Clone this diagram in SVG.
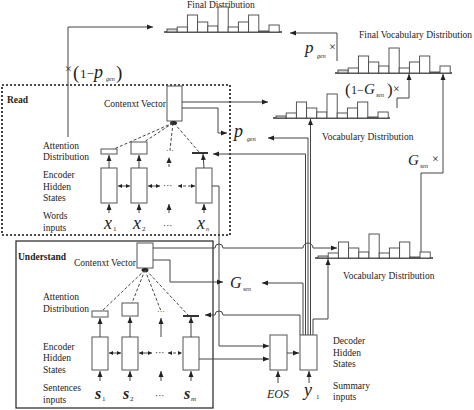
<svg xmlns="http://www.w3.org/2000/svg" width="474" height="410" viewBox="0 0 474 410">
<style>
svg{font-size:9.5px}
text{font-family:"Liberation Serif","Times New Roman",serif;fill:#222}
.b{font-weight:bold}
.m{font-style:italic}
.ln{fill:none;stroke:#444;stroke-width:1}
.ar{marker-end:url(#ah)}
.bi{marker-start:url(#as);marker-end:url(#as)}
.ds{stroke-dasharray:3,2}
.bx{fill:#fff;stroke:#555;stroke-width:1}
.bar{fill:#fff;stroke:#444;stroke-width:0.9}
.gb{fill:#d8d8d8;stroke:#444;stroke-width:0.9}
.base{stroke:#333;stroke-width:1.3}
</style>
<defs>
<marker id="ah" markerUnits="userSpaceOnUse" markerWidth="7" markerHeight="6" refX="6" refY="3" orient="auto-start-reverse">
<path d="M0,0.5 L6,3 L0,5.5 z" fill="#222"/>
</marker>
<marker id="as" markerUnits="userSpaceOnUse" markerWidth="5" markerHeight="5" refX="4" refY="2" orient="auto-start-reverse">
<path d="M0,0 L4,2 L0,4 z" fill="#222"/>
</marker>
</defs>

<g id="final-distribution">
<text x="187" y="8">Final Distribution</text>
<line class="base" x1="164" y1="32" x2="282" y2="32"/>
<rect class="gb" x="167" y="29" width="10.2" height="3"/>
<rect class="bar" x="177.2" y="27" width="10.2" height="5"/>
<rect class="bar" x="187.4" y="15" width="10.2" height="17"/>
<rect class="bar" x="197.6" y="22" width="10.2" height="10"/>
<rect class="bar" x="207.8" y="26" width="10.2" height="6"/>
<rect class="bar" x="218" y="7" width="10.2" height="25"/>
<rect class="bar" x="228.2" y="27" width="10.2" height="5"/>
<rect class="bar" x="238.4" y="22" width="10.2" height="10"/>
<rect class="bar" x="248.6" y="15" width="10.2" height="17"/>
<rect class="gb" x="258.8" y="31" width="10.2" height="1"/>
<rect class="bar" x="269" y="25" width="10.2" height="7"/>
</g>

<g id="vocab-distribution-upper">
<line class="base" x1="273" y1="118" x2="390" y2="118"/>
<rect class="gb" x="276" y="116" width="10.2" height="2"/>
<rect class="bar" x="286.2" y="113" width="10.2" height="5"/>
<rect class="bar" x="296.4" y="102" width="10.2" height="16"/>
<rect class="bar" x="306.6" y="108" width="10.2" height="10"/>
<rect class="bar" x="316.8" y="112" width="10.2" height="6"/>
<rect class="bar" x="327" y="94" width="10.2" height="24"/>
<rect class="bar" x="337.2" y="113" width="10.2" height="5"/>
<rect class="bar" x="347.4" y="108" width="10.2" height="10"/>
<rect class="bar" x="357.6" y="102" width="10.2" height="16"/>
<rect class="gb" x="367.8" y="117" width="10.2" height="1"/>
<rect class="bar" x="378" y="112" width="10.2" height="6"/>
<text x="322" y="140">Vocabulary Distribution</text>
</g>

<g id="final-vocab-distribution">
<text x="359" y="38">Final Vocabulary Distribution</text>
<line class="base" x1="335" y1="73" x2="452" y2="73"/>
<rect class="gb" x="338" y="70" width="10.2" height="3"/>
<rect class="bar" x="348.2" y="68" width="10.2" height="5"/>
<rect class="bar" x="358.4" y="56" width="10.2" height="17"/>
<rect class="bar" x="368.6" y="62" width="10.2" height="11"/>
<rect class="bar" x="378.8" y="66" width="10.2" height="7"/>
<rect class="bar" x="389" y="48" width="10.2" height="25"/>
<rect class="bar" x="399.2" y="68" width="10.2" height="5"/>
<rect class="bar" x="409.4" y="62" width="10.2" height="11"/>
<rect class="bar" x="419.6" y="56" width="10.2" height="17"/>
<rect class="gb" x="429.8" y="72" width="10.2" height="1"/>
<rect class="bar" x="440" y="66" width="10.2" height="7"/>
</g>

<g id="vocab-distribution-lower">
<line class="base" x1="315" y1="258" x2="433" y2="258"/>
<rect class="gb" x="318" y="256" width="10.2" height="2"/>
<rect class="bar" x="328.2" y="253" width="10.2" height="5"/>
<rect class="bar" x="338.4" y="242" width="10.2" height="16"/>
<rect class="bar" x="348.6" y="248" width="10.2" height="10"/>
<rect class="bar" x="358.8" y="252" width="10.2" height="6"/>
<rect class="bar" x="369" y="234" width="10.2" height="24"/>
<rect class="bar" x="379.2" y="253" width="10.2" height="5"/>
<rect class="bar" x="389.4" y="248" width="10.2" height="10"/>
<rect class="bar" x="399.6" y="242" width="10.2" height="16"/>
<rect class="gb" x="409.8" y="257" width="10.2" height="1"/>
<rect class="bar" x="420" y="252" width="10.2" height="6"/>
<text x="343" y="279">Vocabulary Distribution</text>
</g>

<g id="read">
<rect x="2" y="85" width="228" height="150" fill="none" stroke="#111" stroke-width="1.6" stroke-dasharray="2,2"/>
<text class="b" x="7" y="103">Read</text>
<text x="104" y="107">Contenxt Vector</text>
<rect class="bx" x="167" y="86" width="15" height="35"/>
<ellipse cx="173.5" cy="123" rx="3.5" ry="2" fill="#222"/>
<text x="43" y="149">Attention</text>
<text x="43" y="160">Distribution</text>
<text x="43" y="178">Encoder</text>
<text x="43" y="190">Hidden</text>
<text x="43" y="201">States</text>
<text x="43" y="219">Words</text>
<text x="43" y="231">inputs</text>
<rect class="bx" x="101" y="149" width="16" height="5"/>
<rect class="bx" x="131" y="142" width="16" height="12"/>
<text x="166" y="153" font-size="8">···</text>
<line x1="192" y1="153" x2="208" y2="153" stroke="#333" stroke-width="2"/>
<rect class="bx" x="101" y="168" width="16" height="35"/>
<rect class="bx" x="131" y="168" width="16" height="35"/>
<rect class="bx" x="196" y="168" width="16" height="35"/>
<text x="163" y="189">···</text>
<text class="m" x="104" y="229" font-size="18">x</text><text x="113" y="231" font-size="7">1</text>
<text class="m" x="133" y="229" font-size="18">x</text><text x="142" y="231" font-size="7">2</text>
<text x="163" y="229">···</text>
<text class="m" x="197" y="229" font-size="18">x</text><text class="m" x="206" y="231" font-size="6">n</text>
</g>

<g id="understand">
<rect x="16" y="241" width="197" height="167" fill="none" stroke="#222" stroke-width="1.2"/>
<text class="b" x="18" y="260">Understand</text>
<text x="74" y="266">Contenxt Vector</text>
<rect class="bx" x="137" y="243" width="16" height="25"/>
<ellipse cx="145" cy="270" rx="3.5" ry="2" fill="#222"/>
<text x="43" y="300">Attention</text>
<text x="43" y="312">Distribution</text>
<text x="43" y="350">Encoder</text>
<text x="43" y="361">Hidden</text>
<text x="43" y="373">States</text>
<text x="43" y="391">Sentences</text>
<text x="43" y="403">inputs</text>
<rect class="bx" x="92" y="311" width="16" height="6"/>
<rect class="bx" x="122" y="303" width="16" height="13"/>
<text x="157" y="314" font-size="8">···</text>
<line x1="183" y1="316" x2="199" y2="316" stroke="#333" stroke-width="2"/>
<rect class="bx" x="92" y="337" width="16" height="33"/>
<rect class="bx" x="122" y="337" width="16" height="33"/>
<rect class="bx" x="183" y="337" width="16" height="33"/>
<text x="155" y="356">···</text>
<text class="m b" x="95" y="399" font-size="16">s</text><text x="102" y="401" font-size="7">1</text>
<text class="m b" x="123" y="399" font-size="16">s</text><text x="130" y="401" font-size="7">2</text>
<text x="155" y="399">···</text>
<text class="m b" x="184" y="399" font-size="16">s</text><text class="m" x="191" y="401" font-size="7">m</text>
</g>

<g id="decoder">
<rect class="bx" x="270" y="335" width="17" height="35"/>
<rect class="bx" x="300" y="335" width="17" height="35"/>
<text class="m" x="267" y="398" font-size="12">EOS</text>
<text class="m" x="304" y="396" font-size="18">y</text><text x="316" y="399" font-size="7">1</text>
<text x="333" y="344">Decoder</text>
<text x="333" y="356">Hidden</text>
<text x="333" y="367">States</text>
<text x="333" y="389">Summary</text>
<text x="333" y="400">inputs</text>
</g>

<g id="labels">
<text x="65" y="73" font-size="12">×</text>
<text x="73" y="79" font-size="19">(</text>
<text x="80" y="78" font-size="13">1−</text>
<text class="m" x="94" y="78" font-size="18">p</text>
<text class="m" x="106" y="81" font-size="6">gen</text>
<text x="116" y="79" font-size="19">)</text>

<text class="m" x="234" y="137" font-size="18">p</text>
<text class="m" x="247" y="141" font-size="6">gen</text>

<text class="m" x="305" y="53" font-size="17">p</text>
<text class="m" x="317" y="58" font-size="6">gen</text>
<text x="329" y="51" font-size="12">×</text>

<text x="345" y="95" font-size="17">(</text>
<text x="351" y="94" font-size="12">1−</text>
<text class="m" x="364" y="94" font-size="15">G</text>
<text class="m" x="376" y="97" font-size="6">sen</text>
<text x="387" y="95" font-size="17">)</text>
<text x="393" y="93" font-size="12">×</text>

<text class="m" x="408" y="165" font-size="15">G</text>
<text class="m" x="420" y="168" font-size="6">sen</text>
<text x="432" y="163" font-size="12">×</text>

<text class="m" x="230" y="288" font-size="16">G</text>
<text class="m" x="243" y="291" font-size="6">sen</text>
</g>

<g id="connectors">
<line class="ln ar" x1="109" y1="168" x2="109" y2="155"/>
<line class="ln ar" x1="139" y1="168" x2="139" y2="155"/>
<line class="ln ar ds" x1="169" y1="167" x2="169" y2="157"/>
<line class="ln ar" x1="204" y1="168" x2="203" y2="154"/>
<line class="ln bi" x1="118" y1="186" x2="130" y2="186"/>
<line class="ln bi" x1="148" y1="186" x2="160" y2="186"/>
<line class="ln bi ds" x1="178" y1="186" x2="195" y2="186"/>
<line class="ln ar" x1="109" y1="213" x2="109" y2="204"/>
<line class="ln ar" x1="139" y1="213" x2="139" y2="204"/>
<line class="ln ar" x1="169" y1="213" x2="169" y2="204"/>
<line class="ln ar" x1="204" y1="213" x2="204" y2="204"/>
<line class="ln ds" x1="173" y1="123" x2="114" y2="149"/>
<line class="ln ds" x1="173" y1="123" x2="144" y2="142"/>
<line class="ln ds" x1="173" y1="123" x2="170" y2="150"/>
<line class="ln ds" x1="174" y1="123" x2="199" y2="152"/>
<line class="ln ar" x1="100" y1="337" x2="100" y2="318"/>
<line class="ln ar" x1="130" y1="337" x2="130" y2="317"/>
<line class="ln ar" x1="161" y1="337" x2="161" y2="318"/>
<line class="ln ar" x1="191" y1="337" x2="191" y2="317"/>
<line class="ln bi" x1="109" y1="353" x2="121" y2="353"/>
<line class="ln bi" x1="139" y1="353" x2="152" y2="353"/>
<line class="ln bi ds" x1="168" y1="353" x2="182" y2="353"/>
<line class="ln ar" x1="100" y1="381" x2="100" y2="371"/>
<line class="ln ar" x1="130" y1="381" x2="130" y2="371"/>
<line class="ln ar" x1="161" y1="381" x2="161" y2="371"/>
<line class="ln ar" x1="191" y1="381" x2="191" y2="371"/>
<line class="ln ds" x1="145" y1="270" x2="102" y2="311"/>
<line class="ln ds" x1="145" y1="270" x2="132" y2="303"/>
<line class="ln ds" x1="145" y1="270" x2="161" y2="311"/>
<line class="ln ds" x1="146" y1="270" x2="188" y2="315"/>
<path class="ln ar" d="M68,137 V27 H153"/>
<path class="ln ar" d="M182,102 H268"/>
<path class="ln ar" d="M182,108 H218 V133 H227"/>
<path class="ln ar" d="M212,186 H219 V346 H269"/>
<path class="ln ar" d="M153,248 H215 a4,4 0 0 1 8,0 H303 a5,5 0 0 1 10,0 H337"/>
<path class="ln ar" d="M153,260 H170 V282 H223"/>
<path class="ln ar" d="M199,359 H269"/>
<path class="ln ar" d="M287,353 H299"/>
<line class="ln ar" x1="278" y1="383" x2="278" y2="371"/>
<line class="ln ar" x1="309" y1="383" x2="309" y2="371"/>
<path class="ln ar" d="M300,335 V315 H223 a4,4 0 0 0 -8,0 H205"/>
<path class="ln ar" d="M303,335 V283 H262"/>
<path class="ln ar" d="M305.5,335 V154 H213"/>
<path class="ln ar" d="M308,335 V138 H268"/>
<path class="ln ar" d="M310.5,335 V119"/>
<path class="ln ar" d="M313,335 V319 H328 V259"/>
<path class="ln ar" d="M337,61 V33 H290"/>
<path class="ln ar" d="M397,108 V98 H409 V74"/>
<path class="ln ar" d="M421,252 V173 H443 V74"/>
</g>
</svg>
